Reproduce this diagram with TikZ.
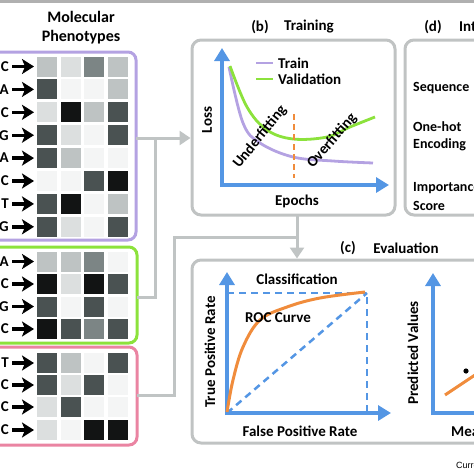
\documentclass[tikz,border=0pt]{standalone}
\usepackage{fontspec}
\setmainfont{Carlito}
\newfontfamily\capfont{Liberation Sans}
\usetikzlibrary{arrows.meta}
\definecolor{g0}{HTML}{F4F5F5}
\definecolor{g1}{HTML}{DCDFDF}
\definecolor{g2}{HTML}{BEC3C3}
\definecolor{g3}{HTML}{7C8585}
\definecolor{g4}{HTML}{4A5252}
\definecolor{g5}{HTML}{121414}
\definecolor{boxpurple}{RGB}{180,162,226}
\definecolor{boxgreen}{RGB}{140,226,60}
\definecolor{boxpink}{RGB}{234,132,162}
\definecolor{panelgray}{RGB}{192,195,195}
\definecolor{conngray}{RGB}{192,196,196}
\definecolor{axblue}{RGB}{84,150,228}
\definecolor{curveorange}{RGB}{240,140,60}
\definecolor{topgray}{RGB}{176,176,176}
\begin{document}
\begin{tikzpicture}[x=1pt,y=-1pt,
  lbl/.style={font=\bfseries\fontsize{15}{17}\selectfont, inner sep=0pt},
  itm/.style={font=\bfseries\fontsize{14}{16}\selectfont, inner sep=0pt, anchor=west},
  seqletter/.style={font=\bfseries\fontsize{15}{17}\selectfont, inner sep=0pt, anchor=east},
  rowarrow/.style={line width=3.4pt, -{Stealth[length=12pt,width=15pt,inset=3pt]}},
  panel/.style={draw=panelgray, line width=3pt, rounded corners=9pt, inner sep=0pt},
  sbox/.style={line width=3pt, rounded corners=8pt, inner sep=0pt},
  conn/.style={draw=conngray, line width=3pt},
  connarrow/.style={conn, -{Triangle[width=14pt,length=11pt]}},
  axis/.style={draw=axblue, line width=4pt, -{Triangle[width=15pt,length=13pt]}},
  bdash/.style={draw=axblue, line width=2.5pt, dash pattern=on 7pt off 5pt},
  orange/.style={draw=curveorange, line width=3pt}
]
\useasboundingbox (0,0) rectangle (474,474);
\clip (0,0) rectangle (474,474);
\fill[topgray] (0,0) rectangle (474,3);

% ---------- Molecular phenotypes ----------
\node[lbl, font=\bfseries\fontsize{16}{19}\selectfont, align=center] (molt) at (81,28) {Molecular\\Phenotypes};

\node[sbox, draw=boxpurple, minimum width=156pt, minimum height=188pt] (purple) at (58,146) {};
\node[sbox, draw=boxgreen, minimum width=157pt, minimum height=96pt] (green) at (58.5,295) {};
\node[sbox, draw=boxpink, minimum width=157pt, minimum height=98pt] (pink) at (58.5,396) {};

\foreach \y/\l/\a/\b/\c/\d [count=\i] in {66.5/C/2/1/3/2, 89.4/A/4/0/0/2, 112.3/C/1/5/2/4, 135.2/G/4/1/0/4, 158.1/A/4/2/0/0, 181/C/0/0/4/5, 203.9/T/4/5/0/2, 226.8/G/4/1/0/4, 261.5/A/2/2/3/0, 284/C/5/1/5/4, 306.5/G/4/0/4/0, 329/C/5/4/3/4, 363/T/4/2/0/4, 385/C/4/1/4/0, 407/C/1/4/0/0, 430/C/1/0/5/5}{
  \node[seqletter] (let\i) at (9,\y) {\l};
  \draw[rowarrow] (12,\y) -- (34,\y);
  \fill[g\a] (37,\y-10) rectangle ++(20,20);
  \fill[g\b] (60.5,\y-10) rectangle ++(20,20);
  \fill[g\c] (84,\y-10) rectangle ++(20,20);
  \fill[g\d] (107.5,\y-10) rectangle ++(20,20);
}

% ---------- Panels ----------
\node[panel, minimum width=203pt, minimum height=175pt] (train) at (293.5,127.5) {};
\node[panel, minimum width=115pt, minimum height=175pt] (interp) at (462.5,127.5) {};
\node[panel, minimum width=328pt, minimum height=183pt] (eval) at (356,351.5) {};

% ---------- Connectors ----------
\coordinate (pout) at (136,138);
\coordinate (gout) at (137,297);
\coordinate (kout) at (137,395);
\coordinate (gj) at (155,138);
\coordinate (tb) at (297,215);
\draw[connarrow] (pout) -- (pout -| train.west);
\draw[conn] (gout) -| (gj);
\draw[conn] (kout) -| (174,237) -- (297,237);
\draw[connarrow] (tb) -- (tb |- eval.north);

% ---------- Training ----------
\node[lbl] (bl) at (260,27) {(b)};
\node[lbl] (btitle) at (309,27) {Training};
\draw[axis] (222,187) -- (222,48);
\draw[axis] (220,185) -- (389,185);
\node[lbl, rotate=90] (loss) at (207,120) {Loss};
\node[lbl] (epochs) at (297,201) {Epochs};
\draw[draw=boxpurple, line width=2.5pt] (256,63) -- (273,63);
\node[itm, font=\bfseries\fontsize{15}{17}\selectfont] (ltrain) at (278,63) {Train};
\draw[draw=boxgreen, line width=2.5pt] (256,79) -- (273,79);
\node[itm, font=\bfseries\fontsize{15}{17}\selectfont] (lval) at (278,79) {Validation};
\draw[draw=boxpurple, line width=2.8pt] plot[smooth, tension=0.6] coordinates {(229,67) (243,123) (260,143) (293,157) (333,161) (373,163)};
\draw[draw=boxgreen, line width=2.8pt] plot[smooth, tension=0.6] coordinates {(230,66) (247,107) (267,130) (293,139) (327,137) (350,127) (375,117)};
\draw[draw=curveorange, line width=2.5pt, dash pattern=on 6pt off 4pt] (294,114) -- (294,178);
\node[lbl, rotate=51] (under) at (260,137) {Underfitting};
\node[lbl, rotate=49] (over) at (332,141) {Overfitting};

% ---------- Interpretation ----------
\node[lbl] (dl) at (433,27) {(d)};
\node[lbl, anchor=west] (dtitle) at (459,27) {Interpretation};
\node[itm] (seq) at (413,88) {Sequence};
\node[itm] (oh1) at (413,127) {One-hot};
\node[itm] (oh2) at (413,145) {Encoding};
\node[itm] (imp1) at (413,188) {Importance};
\node[itm] (imp2) at (413,206) {Score};

% ---------- Evaluation ----------
\node[lbl] (cl) at (348,248) {(c)};
\node[lbl] (ctitle) at (406,248) {Evaluation};
\node[lbl] (classif) at (297,279) {Classification};
\draw[bdash] (227,293) -- (367,293) -- (367,413);
\draw[bdash] (227,413) -- (367,293);
\draw[axis] (227,415) -- (227,272);
\draw[axis] (225,413) -- (391,413);
\draw[orange] plot[smooth, tension=0.6] coordinates {(227,412) (233,380) (243,347) (260,320) (287,307) (320,298) (365,292)};
\node[lbl] (roc) at (278,318) {ROC Curve};
\node[lbl, rotate=90] (tpr) at (210,352) {True Positive Rate};
\node[lbl] (fpr) at (300,431) {False Positive Rate};

\draw[axis] (433,415) -- (433,273);
\draw[axis] (431,413) -- (520,413);
\draw[orange] (445,395) -- (490,365);
\fill (466,371) circle (2.6pt);
\node[lbl, rotate=90] (pv) at (413,353) {Predicted Values};
\node[lbl, anchor=west] (mv) at (451,431) {Measured Values};

\node[anchor=west, inner sep=0pt, font=\capfont\fontsize{9}{11}\selectfont] (cap) at (456,466) {Current Opinion};
\end{tikzpicture}
\end{document}
